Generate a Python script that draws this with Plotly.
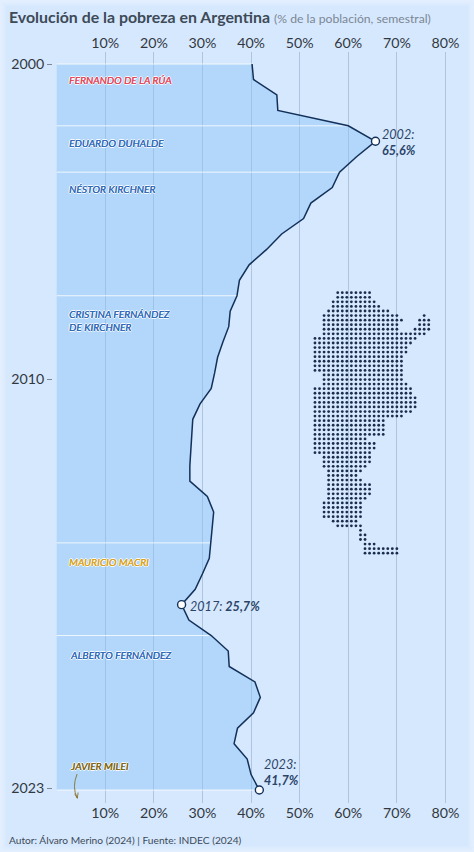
import plotly.graph_objects as go

# semesters, first half of each year = .0 and second half = .5
periods = [2000.0, 2000.5, 2001.0, 2001.5, 2002.0, 2002.5, 2003.0, 2003.5, 2004.0, 2004.5,
           2005.0, 2005.5, 2006.0, 2006.5, 2007.0, 2007.5, 2008.0, 2008.5, 2009.0, 2009.5,
           2010.0, 2010.5, 2011.0, 2011.5, 2012.0, 2012.5, 2013.0, 2013.5, 2014.0, 2014.5,
           2015.0, 2015.5, 2016.0, 2016.5, 2017.0, 2017.5, 2018.0, 2018.5, 2019.0, 2019.5,
           2020.0, 2020.5, 2021.0, 2021.5, 2022.0, 2022.5, 2023.0, 2023.5]
poverty = [40.2, 40.5, 45.3, 45.5, 60.0, 65.6, 61.7, 58.2, 56.7, 52.3,
           50.8, 46.3, 43.2, 39.6, 37.6, 37.1, 35.7, 35.4, 34.2, 33.1,
           32.5, 31.8, 29.5, 28.0, 27.8, 27.6, 27.4, 27.4, 31.0, 32.3,
           32.0, 31.7, 31.4, 30.0, 28.5, 25.7, 27.2, 31.8, 35.3, 35.5,
           40.8, 41.9, 40.5, 37.2, 36.5, 39.2, 40.0, 41.7]

x_ticks = [10, 20, 30, 40, 50, 60, 70, 80]
x_labels = ["10%", "20%", "30%", "40%", "50%", "60%", "70%", "80%"]
year_ticks = [2000, 2010.2, 2023.45]
year_labels = ["2000", "2010", "2023"]

# semesters where a new government starts (plus the two ends)
band_edges = [2000.0, 2002.0, 2003.5, 2007.5, 2015.5, 2018.5, 2023.5]
highlights = [2002.5, 2017.5, 2023.5]

# dotted map: first column and last column of each run, row by row
map_rows = [
    [(5, 12)], [(5, 12)], [(4, 13)], [(4, 14)], [(3, 16)], [(2, 18), (24, 24)],
    [(2, 19), (23, 25)], [(2, 18), (23, 25)], [(2, 18), (22, 25)], [(2, 24)],
    [(0, 22)], [(0, 21)], [(0, 20)], [(0, 20)], [(0, 19)], [(0, 19)], [(0, 19)], [(0, 19)],
    [(2, 19)], [(2, 19)], [(2, 20)], [(0, 21)], [(0, 21)], [(0, 22)], [(0, 22)], [(0, 22)],
    [(0, 21)], [(0, 19)],
    [(0, 15)], [(0, 15)], [(0, 15)], [(0, 15)], [(0, 11)], [(0, 13)], [(0, 13)], [(0, 12)],
    [(2, 12)], [(2, 12)], [(2, 11)], [(3, 10)], [(3, 9)], [(3, 10)], [(3, 12)], [(3, 12)],
    [(3, 12)], [(3, 11)], [(2, 10)], [(2, 10)], [(2, 10)], [(2, 10)], [(4, 9)], [(5, 10)],
    [(10, 10)], [(10, 11)], [(10, 11)], [(11, 13)], [(11, 18)], [(11, 18)],
]

BG = "#d6e8fe"
LINE = "#12305a"
FONT = "Lato"

fig = go.Figure()

# area between the y axis and the line
fig.add_trace(go.Scatter(x=poverty, y=periods, mode="lines", fill="tozerox",
                         fillcolor="rgba(136,196,247,0.45)", line=dict(width=0),
                         hoverinfo="skip", xaxis="x", yaxis="y"))

# white separators between governments
for edge in band_edges:
    v = poverty[periods.index(edge)]
    fig.add_trace(go.Scatter(x=[0, v], y=[edge, edge], mode="lines",
                             line=dict(color="rgba(255,255,255,0.8)", width=1),
                             hoverinfo="skip", xaxis="x", yaxis="y"))

fig.add_trace(go.Scatter(x=poverty, y=periods, mode="lines",
                         line=dict(color=LINE, width=1.5), xaxis="x", yaxis="y"))

fig.add_trace(go.Scatter(x=[poverty[periods.index(p)] for p in highlights], y=highlights,
                         mode="markers",
                         marker=dict(color="white", size=8, line=dict(color=LINE, width=1.4)),
                         xaxis="x", yaxis="y", cliponaxis=False))

# invisible copy so the top axis gets drawn
fig.add_trace(go.Scatter(x=poverty, y=periods, mode="lines", line=dict(width=0),
                         opacity=0, hoverinfo="skip", xaxis="x2", yaxis="y"))

map_x, map_y = [], []
for r, runs in enumerate(map_rows):
    for a, b in runs:
        for c in range(a, b + 1):
            map_x.append(c)
            map_y.append(r)
fig.add_trace(go.Scatter(x=map_x, y=map_y, mode="markers", xaxis="x3", yaxis="y2",
                         marker=dict(color="#1a2d4d", size=2.8, symbol="circle"),
                         hoverinfo="skip"))

halo = "1px 0 0 #fff, -1px 0 0 #fff, 0 1px 0 #fff, 0 -1px 0 #fff"
names = [
    ("FERNANDO DE LA RÚA", 2.05, 2000.52, "#e2475a"),
    ("EDUARDO DUHALDE", 2.05, 2002.55, "#2d69b8"),
    ("NÉSTOR KIRCHNER", 2.05, 2004.05, "#2d69b8"),
    ("CRISTINA FERNÁNDEZ<br>DE KIRCHNER", 2.05, 2008.3, "#2d69b8"),
    ("MAURICIO MACRI", 2.05, 2016.12, "#d8a21c"),
    ("ALBERTO FERNÁNDEZ", 2.25, 2019.13, "#2d69b8"),
    ("JAVIER MILEI", 2.25, 2022.72, "#7d6414"),
]
for text, x, y, color in names:
    # first shadow thickens the letters a little, the rest is the white halo
    fig.add_annotation(text=text, x=x, y=y, xref="x", yref="y", xanchor="left", showarrow=False,
                       align="left",
                       font=dict(family=FONT, size=10.2, color=color, style="italic",
                                 shadow=f"0.35px 0 0 {color}, {halo}"))

notes = [
    ("2002:<br><b>65,6%</b>", 66.6, 2002.55),
    ("2017: <b>25,7%</b>", 27.0, 2017.55),
    ("2023:<br><b>41,7%</b>", 42.2, 2022.93),
]
for text, x, y in notes:
    fig.add_annotation(text=text, x=x, y=y, xref="x", yref="y", xanchor="left", showarrow=False,
                       align="left",
                       font=dict(family=FONT, size=12.6, color="#2b4468", style="italic", shadow=f"0 0 2px {BG}"))

# little arrow under Milei
fig.add_shape(type="path", xref="x", yref="y",
              path="M 4.2 2022.98 Q 3.1 2023.4 4.2 2023.75",
              line=dict(color="#7d6414", width=0.8))
fig.add_shape(type="path", xref="x", yref="y",
              path="M 3.7 2023.62 L 4.25 2023.77 L 4.4 2023.58",
              line=dict(color="#7d6414", width=0.8))

# paper coordinates run over the plot area, hence the pixel conversion
def px(x):
    return (x - 53) / 421

def py(y):
    return (803 - y) / 751

fig.add_annotation(text="Autor: Álvaro Merino (2024) | Fuente: INDEC (2024)",
                   x=px(7), y=py(840),
                   xref="paper", yref="paper", xanchor="left", yanchor="middle", showarrow=False,
                   font=dict(family=FONT, size=10.2, color="#3d4a57"))

# paler rim around the picture
for w in (1.5, 3, 4.5, 6):
    for x0, y0, x1, y1 in [(0, 0, 474, w), (0, 852 - w, 474, 852), (0, w, w, 852 - w), (474 - w, w, 474, 852 - w)]:
        fig.add_shape(type="rect", xref="paper", yref="paper", layer="below",
                      x0=px(x0), x1=px(x1), y0=py(y0), y1=py(y1),
                      fillcolor="rgba(255,255,255,0.1)", line=dict(width=0))

axis_font = dict(family=FONT, size=14.2, color="#32383f")
fig.update_layout(
    width=474, height=852,
    margin=dict(l=53, r=0, t=52, b=49),
    paper_bgcolor=BG, plot_bgcolor=BG,
    showlegend=False,
    font=dict(family=FONT),
    title=dict(
        text="<b>Evolución de la pobreza en Argentina</b> "
             "<span style='font-size:12.2px;color:#7b8794'>(% de la población, semestral)</span>",
        x=9 / 474, xanchor="left", y=1 - 17 / 852, yanchor="middle",
        font=dict(family=FONT, size=15.9, color="#3d4a57"),
    ),
    xaxis=dict(range=[-0.76, 85.87], tickvals=x_ticks, ticktext=x_labels, tickfont=axis_font,
               showgrid=True, gridcolor="#aec4df", gridwidth=1, zeroline=False, showline=False,
               ticks=""),
    xaxis2=dict(range=[-0.76, 85.87], overlaying="x", side="top", anchor="y", tickvals=x_ticks,
                ticktext=x_labels, tickfont=axis_font, showgrid=False, zeroline=False,
                showline=False, ticks=""),
    xaxis3=dict(range=[-57.58, 34.95], overlaying="x", anchor="y2", visible=False),
    yaxis=dict(range=[2023.92, 1999.61], tickvals=year_ticks, ticktext=year_labels, tickfont=axis_font,
               showgrid=False, zeroline=False, showline=False, ticks="outside", ticklen=5,
               tickcolor="#7d8896", tickwidth=1),
    yaxis2=dict(range=[111.66, -52.67], overlaying="y", anchor="x3", visible=False),
)

fig.write_html("out.html", post_script="document.body.style.margin='0';", config=dict(displayModeBar=False))
